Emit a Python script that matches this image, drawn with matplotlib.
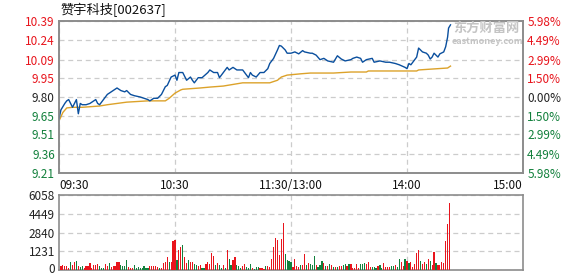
import numpy as np
import matplotlib.pyplot as plt
import matplotlib.transforms as mtransforms

plt.rcParams['font.family'] = ['Noto Sans CJK SC', 'DejaVu Sans']

title = '赞宇科技[002637]'
pre_close = 9.80
price_ticks = [9.21, 9.36, 9.51, 9.65, 9.80, 9.95, 10.09, 10.24, 10.39]
pct_labels = ['5.98%', '4.49%', '2.99%', '1.50%', '0.00%', '1.50%', '2.99%', '4.49%', '5.98%']
time_labels = ['09:30', '10:30', '11:30/13:00', '14:00', '15:00']
vol_labels = ['0', '1231', '2840', '4449', '6058']

# price line (minutes from 09:30, price)
price_min = [0, 1, 3, 4, 5, 6, 7, 8, 9, 10, 11, 12, 14, 16, 19, 20, 21, 23, 25, 27,
             30, 32, 34, 35, 37, 39, 42, 46, 47, 49, 51, 53, 55, 56, 58, 60, 61, 62, 64, 66,
             68, 69, 70, 72, 74, 77, 78, 80, 82, 83, 85, 87, 88, 90, 92, 95, 96, 98, 99, 100,
             102, 104, 106, 108, 109, 111, 113, 114, 115, 117, 118, 120, 122, 124, 126, 127, 130, 131, 133, 135,
             137, 139, 142, 144, 146, 148, 151, 152, 154, 156, 157, 159, 162, 163, 166, 169, 171, 174, 176, 179,
             180, 181, 182, 183, 185, 186, 188, 190, 191, 192, 193, 194, 196, 197, 199, 200, 201, 201.5, 202.5]
price = [9.63, 9.70, 9.75, 9.77, 9.78, 9.75, 9.72, 9.75, 9.78, 9.67, 9.75, 9.74, 9.74, 9.75, 9.78, 9.75, 9.74, 9.78, 9.82, 9.84,
         9.87, 9.85, 9.84, 9.85, 9.82, 9.81, 9.80, 9.78, 9.77, 9.79, 9.79, 9.82, 9.88, 9.89, 9.955, 9.97, 9.93, 9.99, 9.99, 9.93,
         9.955, 9.93, 9.91, 9.95, 9.95, 9.99, 10.01, 9.99, 9.99, 9.95, 9.99, 10.03, 10.01, 10.03, 10.01, 10.01, 9.99, 9.95, 9.99, 9.97,
         9.955, 9.99, 9.99, 10.02, 10.06, 10.10, 10.165, 10.20, 10.195, 10.165, 10.14, 10.14, 10.15, 10.135, 10.16, 10.15, 10.14, 10.14, 10.125, 10.09,
         10.10, 10.08, 10.07, 10.12, 10.095, 10.08, 10.09, 10.10, 10.11, 10.10, 10.07, 10.09, 10.10, 10.07, 10.08, 10.07, 10.07, 10.06, 10.05, 10.03,
         10.02, 10.06, 10.05, 10.07, 10.11, 10.18, 10.15, 10.14, 10.125, 10.095, 10.11, 10.14, 10.11, 10.135, 10.15, 10.19, 10.265, 10.335, 10.36]

# average price line
avg_min = [0.5, 2, 4, 7, 12, 21, 25, 30, 35, 46, 55, 57, 60, 63, 64, 73, 78, 85, 95, 109,
           113, 115, 118, 125, 130, 142, 151, 159, 160, 185, 186, 193, 201, 202.5]
avg = [9.63, 9.68, 9.715, 9.72, 9.72, 9.73, 9.74, 9.75, 9.76, 9.77, 9.77, 9.79, 9.83, 9.855, 9.86, 9.87, 9.877, 9.885, 9.91, 9.91,
       9.93, 9.955, 9.97, 9.98, 9.986, 9.986, 9.994, 9.994, 10.002, 10.002, 10.01, 10.017, 10.025, 10.04]

# volume per minute (starting at minute 1)
volume = [325, 410, 325, 325, 165, 650, 410, 650, 735, 325, 245, 325, 165, 325, 325, 570, 165, 410, 410, 490,
          325, 165, 165, 490, 325, 570, 245, 325, 325, 650, 650, 410, 325, 325, 815, 245, 165, 165, 410, 165,
          245, 165, 165, 325, 165, 165, 325, 325, 325, 325,
          270, 165, 165, 570, 650, 1060, 650, 650, 2360, 2440, 815, 1630, 1875, 2040, 1060, 570, 815, 650, 650, 490,
          435, 325, 410, 165, 165, 490, 650, 490, 1385, 1140, 410, 570, 410, 165, 410, 165, 1630, 900, 410, 815,
          1060, 410, 325, 165, 325, 490, 245, 165, 490, 165,
          110, 220, 220, 165, 165, 110, 325, 325, 245, 900, 1875, 2610, 2450, 1225, 2530, 3830, 1305, 815, 735, 650,
          245, 900, 325, 245, 410, 410, 1305, 410, 570, 490, 410, 1140, 410, 245, 410, 735, 570, 325, 325, 490,
          410, 245, 245, 245, 325, 325, 410, 490, 325, 490, 490,
          165, 165, 490, 165, 490, 490, 570, 490, 650, 245, 245, 245, 165, 325, 410, 165, 570, 245, 245, 245,
          325, 325, 410, 245, 900, 650, 325, 900, 735, 570, 650, 245, 490, 1385, 1630, 735, 490, 650, 490, 900,
          735, 410, 1470, 570, 410, 410, 650, 570, 2360, 3750, 5380]
vol_dir = ('rrrrrgrrgrggrrrrrrrrgggrrgrrrrrggggrrrggggggggrrrr'
           'rgrrrrgrrrgrrgrrgrrggrrggrrrrrgrggrgrggrrgggrrgggr'
           'gggrrrgrrrrrrrrrggggrrrrgrrgrgggrgggrgrgrgrgrrggrgr'
           'rrrrgggrrrgggrggrrrrggrggrrgrgrrrrrgrrgrgrrgrrrrrrr')

RED = '#e8141c'
GREEN = '#12803c'
GRID = '#cccccc'
FRAME = '#8c8c8c'

fig = plt.figure(figsize=(5.78, 2.76), dpi=100)
ax = fig.add_axes([59/578, 103/276, 464/578, 152/276])
axv = fig.add_axes([59/578, 6/276, 464/578, 75/276])

ax.plot(avg_min, avg, color='#dca22a', lw=1.0, zorder=3)
ax.plot(price_min, price, color='#0a4f9e', lw=1.0, zorder=4)
ax.set_xlim(0, 240)
ax.set_ylim(price_ticks[0], price_ticks[-1])
ax.set_yticks(price_ticks)
ax.set_yticklabels(['%.2f' % v for v in price_ticks])
for lab, v in zip(ax.get_yticklabels(), price_ticks):
    lab.set_color(RED if v > pre_close + 1e-6 else (GREEN if v < pre_close - 1e-6 else '#222222'))
ax.set_xticks([0, 60, 120, 180, 240])
ax.set_xticklabels(time_labels)
xl = ax.get_xticklabels()
xl[0].set_horizontalalignment('left')
xl[-1].set_horizontalalignment('right')
ax.grid(True, ls=(0, (4, 3)), color=GRID, lw=0.9)

ax2 = ax.twinx()
ax2.set_ylim(price_ticks[0], price_ticks[-1])
ax2.set_yticks(price_ticks)
ax2.set_yticklabels(pct_labels)
for lab, v in zip(ax2.get_yticklabels(), price_ticks):
    lab.set_color(RED if v > pre_close + 1e-6 else (GREEN if v < pre_close - 1e-6 else '#222222'))

minutes = np.arange(1, len(volume) + 1)
colors = [RED if c == 'r' else GREEN for c in vol_dir]
axv.bar(minutes, volume, width=0.6, color=colors, lw=0, zorder=3, antialiased=False)
axv.set_xlim(0, 240)
axv.set_ylim(0, 6058)
axv.set_yticks(np.linspace(0, 6058, 5))
axv.set_yticklabels(vol_labels)
axv.set_xticks([60, 120, 180])
axv.set_xticklabels([])
axv.grid(True, ls=(0, (4, 3)), color=GRID, lw=0.9)

for a in (ax, ax2, axv):
    a.tick_params(length=0, labelsize=8.5, pad=3)
    for s in a.spines.values():
        s.set_color(FRAME)
        s.set_linewidth(1.2)
ax.tick_params(axis='x', pad=4, labelcolor='#111111')
axv.tick_params(labelcolor='#222222')
ax.set_axisbelow(True)
axv.set_axisbelow(True)

# nudge the "0" volume label up so it stays inside the figure
zero_lab = axv.get_yticklabels()[0]
zero_lab.set_transform(zero_lab.get_transform() +
                       mtransforms.ScaledTranslation(0, 2/100, fig.dpi_scale_trans))

fig.text(60/578, 1 - 10/276, title, fontsize=9.5, va='center', ha='left', color='#111111')

# watermark
fig.text(453/578, 1 - 28/276, '东方财富网', fontsize=9.5, color='#c4c4c4', fontweight='bold',
         va='center', ha='left', zorder=0)
fig.text(452/578, 1 - 41/276, 'eastmoney.com', fontsize=6.5, color='#c4c4c4', fontweight='bold',
         va='center', ha='left', zorder=0)

fig.savefig('out.png', dpi=100)
